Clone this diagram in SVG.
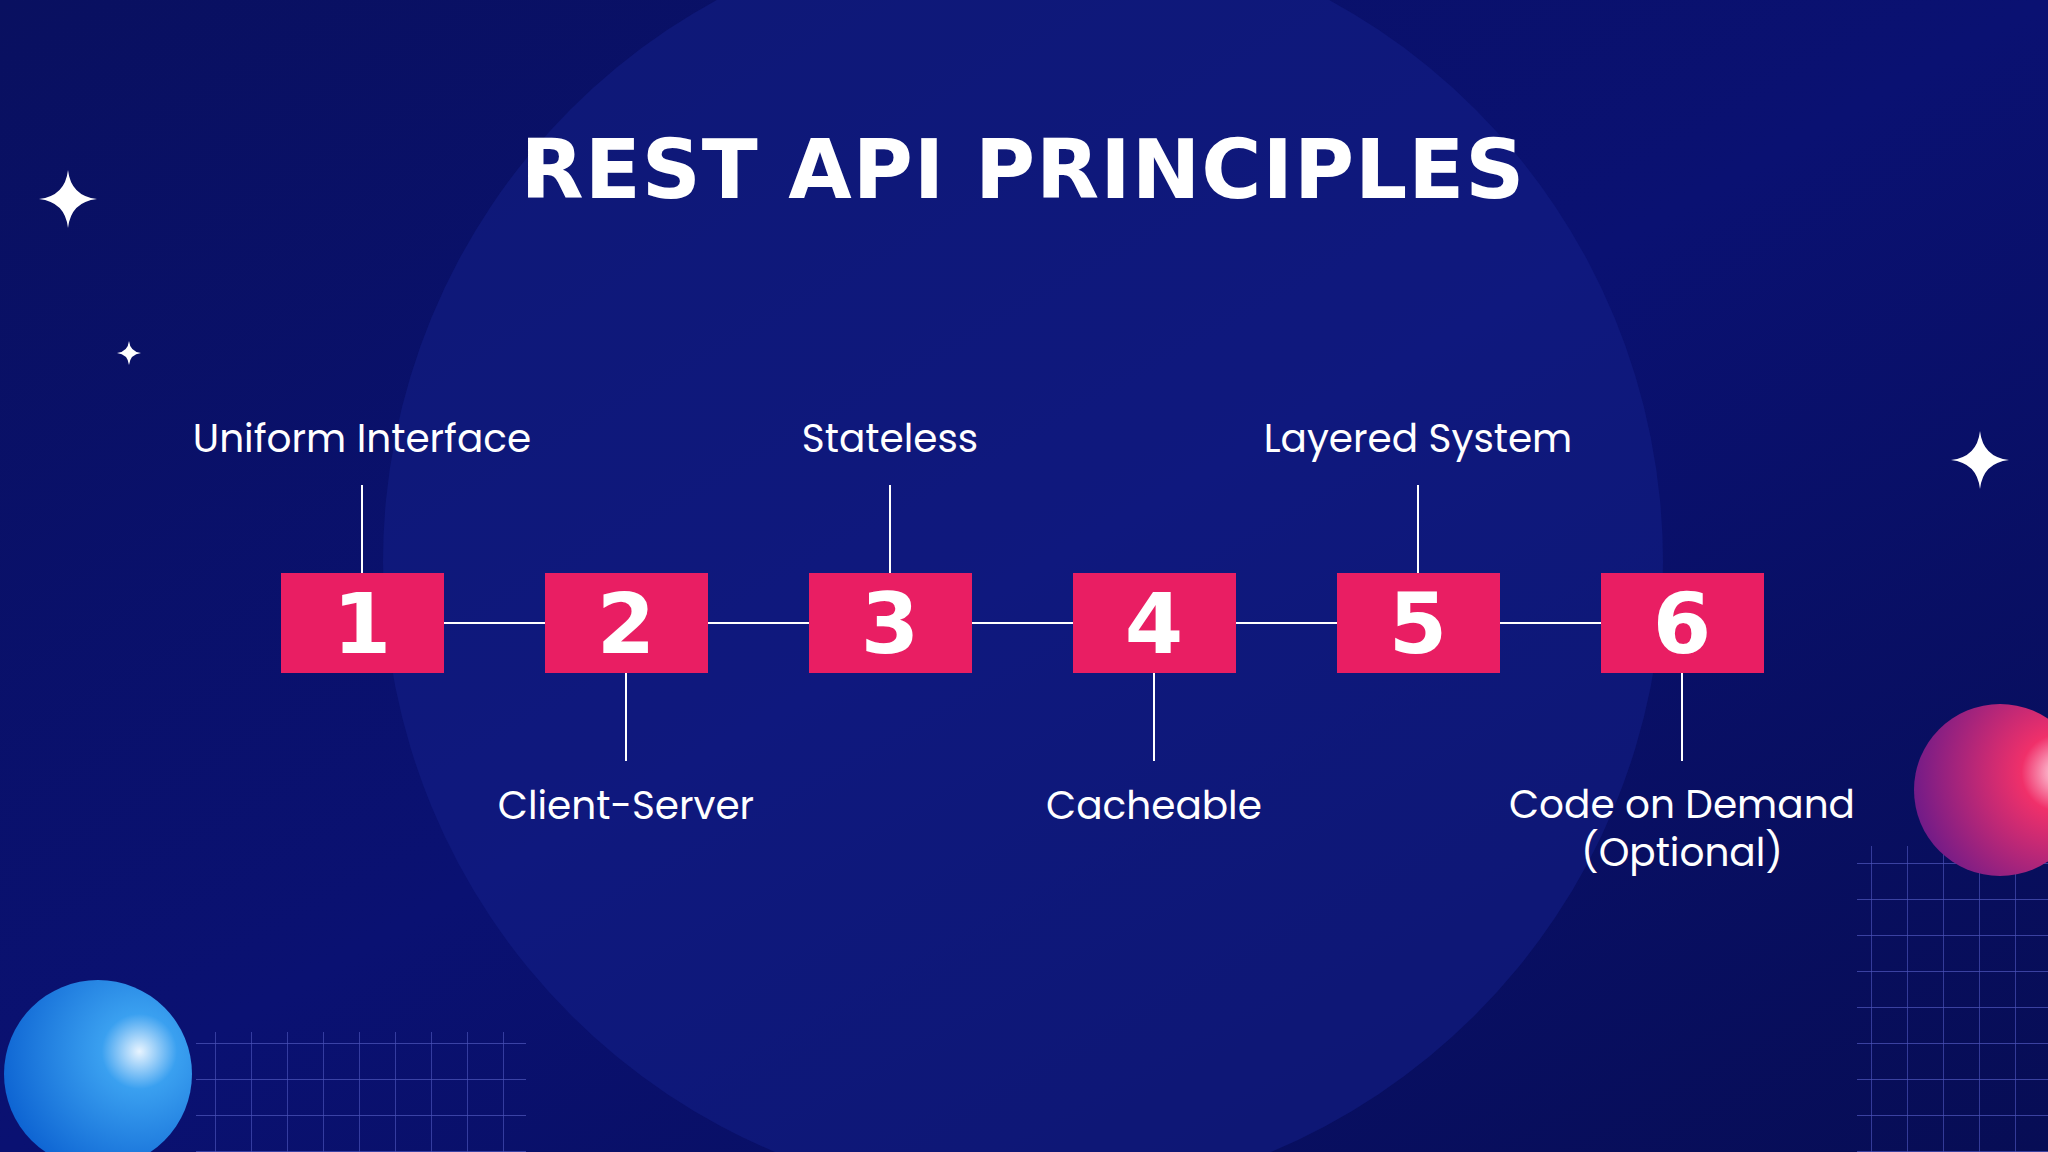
<svg xmlns="http://www.w3.org/2000/svg" width="2048" height="1152" viewBox="0 0 2048 1152">
<defs>
<linearGradient id="bg" x1="0" y1="0" x2="1" y2="1"><stop offset="0" stop-color="#091060"/><stop offset="0.5" stop-color="#0a1172"/><stop offset="1" stop-color="#070d55"/></linearGradient>
<radialGradient id="blue" cx="0.72" cy="0.38" r="0.8"><stop offset="0" stop-color="#e8f4ff"/><stop offset="0.25" stop-color="#3aa0f0"/><stop offset="1" stop-color="#0a5fd0"/></radialGradient>
<radialGradient id="pink" cx="0.85" cy="0.4" r="0.9"><stop offset="0" stop-color="#ffe0ea"/><stop offset="0.25" stop-color="#f0306a"/><stop offset="1" stop-color="#6a1a8a"/></radialGradient>
<pattern id="grid" width="36" height="36" patternUnits="userSpaceOnUse"><path d="M36 0V36H0" fill="none" stroke="#4a52b8" stroke-width="1.3"/></pattern>
<path id="star" d="M0,-1 Q0.1,-0.1 1,0 Q0.1,0.1 0,1 Q-0.1,0.1 -1,0 Q-0.1,-0.1 0,-1Z" fill="#fff"/>
</defs>
<style>
.box{fill:#e91e63}
.num{font-family:"DejaVu Sans",sans-serif;font-weight:bold;font-size:84px;fill:#fff;text-anchor:middle}
.lbl{font-family:"Poppins","Open Sans","Noto Sans",sans-serif;font-size:39px;fill:#fff;text-anchor:middle}
.ln{stroke:#fff;stroke-width:2;fill:none}
</style>
<rect width="2048" height="1152" fill="url(#bg)"/>
<circle cx="1023" cy="562" r="640" fill="#14208a" opacity="0.5"/>
<rect x="196" y="1032" width="330" height="120" fill="url(#grid)"/>
<rect x="1857" y="846" width="191" height="306" fill="url(#grid)"/>
<circle cx="98" cy="1074" r="94" fill="url(#blue)"/>
<circle cx="2000" cy="790" r="86" fill="url(#pink)"/>
<use href="#star" transform="translate(68,199) scale(29)"/>
<use href="#star" transform="translate(129,353) scale(12)"/>
<use href="#star" transform="translate(1980,460) scale(29)"/>
<text x="1023" y="198" text-anchor="middle" font-family="DejaVu Sans, sans-serif" font-weight="bold" font-size="82" letter-spacing="1" fill="#fff">REST API PRINCIPLES</text>
<g id="connectors">
<path class="ln" d="M444 623H545M708 623H809M972 623H1073M1236 623H1337M1500 623H1601"/>
<path class="ln" d="M362 485V573M626 673V761M890 485V573M1154 673V761M1418 485V573M1682 673V761"/>
</g>
<g id="n1"><rect class="box" x="281" y="573" width="163" height="100"/><text class="num" x="362" y="653">1</text><text class="lbl" x="362" y="452">Uniform Interface</text></g>
<g id="n2"><rect class="box" x="545" y="573" width="163" height="100"/><text class="num" x="626" y="653">2</text><text class="lbl" x="626" y="819">Client-Server</text></g>
<g id="n3"><rect class="box" x="809" y="573" width="163" height="100"/><text class="num" x="890" y="653">3</text><text class="lbl" x="890" y="452">Stateless</text></g>
<g id="n4"><rect class="box" x="1073" y="573" width="163" height="100"/><text class="num" x="1154" y="653">4</text><text class="lbl" x="1154" y="819">Cacheable</text></g>
<g id="n5"><rect class="box" x="1337" y="573" width="163" height="100"/><text class="num" x="1418" y="653">5</text><text class="lbl" x="1418" y="452">Layered System</text></g>
<g id="n6"><rect class="box" x="1601" y="573" width="163" height="100"/><text class="num" x="1682" y="653">6</text><text class="lbl" x="1682" y="818">Code on Demand</text><text class="lbl" x="1682" y="866">(Optional)</text></g>
</svg>
